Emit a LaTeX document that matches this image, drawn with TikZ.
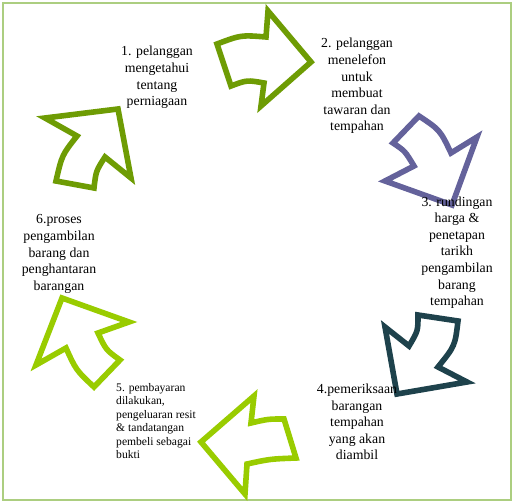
\documentclass[tikz,border=0pt]{standalone}
\usepackage{fontspec}
\setmainfont{Liberation Serif}
\definecolor{olive}{RGB}{110,156,4}
\definecolor{lime}{RGB}{153,204,0}
\definecolor{violet}{RGB}{100,98,155}
\definecolor{teal}{RGB}{30,66,76}
\definecolor{frame}{RGB}{172,206,128}
\begin{document}
\begin{tikzpicture}[x=1pt,y=-1pt,
  arrowshape/.style={line width=5.6pt,line join=miter,miter limit=10},
  label/.style={align=center,inner sep=0pt,font=\fontsize{13.8}{16.6}\selectfont},
  small/.style={align=left,inner sep=0pt,font=\fontsize{11.6}{13.4}\selectfont}]
\useasboundingbox (0,0) rectangle (515,502);
\draw[frame,line width=1.5pt] (3,3) rectangle (511,500);
% arrow 1 (top, right)
\draw[arrowshape,olive] (217,44) .. controls (241,35) .. (266,37) -- (268,11) -- (311,62) -- (261,106) -- (264,83) .. controls (247,80) .. (231,86) -- cycle;
% arrow 2 (purple, down-right)
\draw[arrowshape,violet] (419,116) -- (393,143) .. controls (405,151) .. (414,166) -- (385,181) -- (452,205) -- (477,137) -- (451,153) .. controls (440,130) .. cycle;
% arrow 3 (teal, down-left)
\draw[arrowshape,teal] (418,315) -- (458,321) .. controls (455,346) .. (438,367) -- (467,382) -- (397,394) -- (385,327) -- (409,346) .. controls (418,331) .. cycle;
% arrow 4 (bottom, left)
\draw[arrowshape,lime] (254,396) -- (251,423) .. controls (268,419) .. (284,419) -- (296,458) .. controls (270,459) .. (247,464) -- (245,494) -- (201,442) -- cycle;
% arrow 5 (lower left, up-left)
\draw[arrowshape,lime] (62,298) -- (129,322) -- (98,333) .. controls (106,350) .. (120,360) -- (94,387) .. controls (76,370) .. (66,348) -- (36,365) -- cycle;
% arrow 6 (upper left, up-right)
\draw[arrowshape,olive] (45,118) -- (118,109) -- (131,178) -- (105,157) .. controls (96,171) .. (94,188) -- (56,181) .. controls (62,155) .. (77,136) -- cycle;
% texts
\node[label] (t1) at (157,77.5) {1. pelanggan\\mengetahui\\tentang\\perniagaan};
\node[label] (t2) at (357,86) {2. pelanggan\\menelefon\\untuk\\membuat\\tawaran dan\\tempahan};
\node[label] (t3) at (457,252.5) {3. rundingan\\harga \&\\penetapan\\tarikh\\pengambilan\\barang\\tempahan};
\node[label] (t4) at (357,422) {4.pemeriksaan\\barangan\\tempahan\\yang akan\\diambil};
\node[small,anchor=west] (t5) at (116,421) {5. pembayaran\\dilakukan,\\pengeluaran resit\\\& tandatangan\\pembeli sebagai\\bukti};
\node[label] (t6) at (59,254) {6.proses\\pengambilan\\barang dan\\penghantaran\\barangan};
\end{tikzpicture}
\end{document}
